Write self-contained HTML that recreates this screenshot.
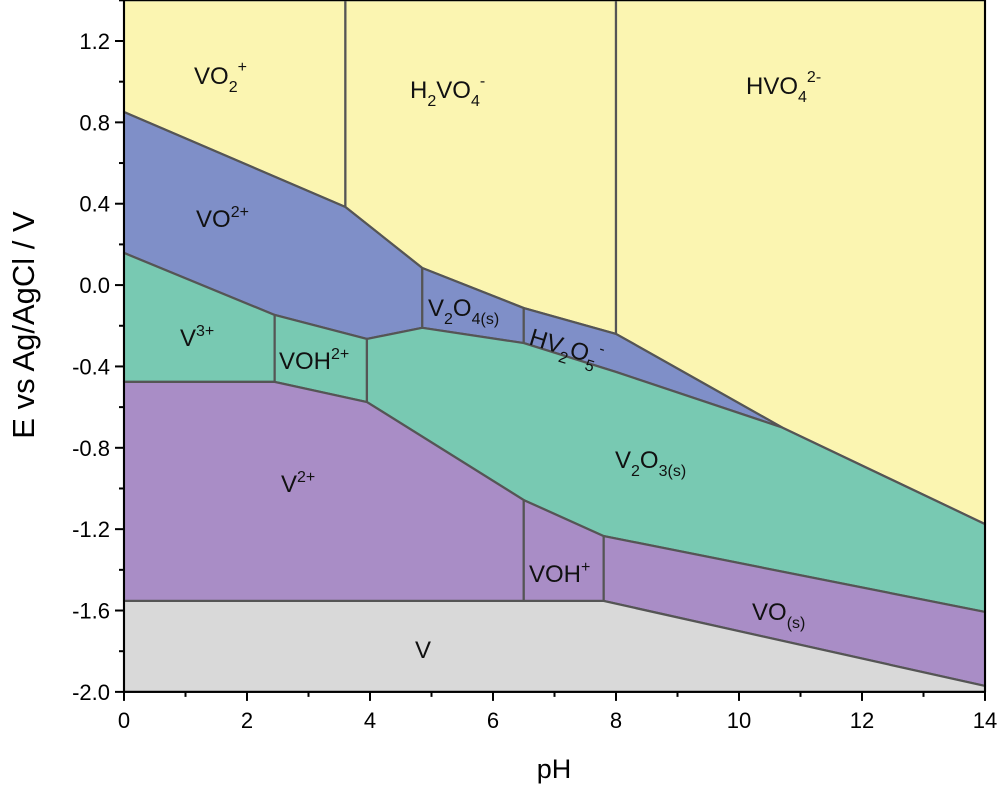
<!DOCTYPE html>
<html><head><meta charset="utf-8"><style>
body{margin:0;background:#fff}
svg{display:block;font-family:"Liberation Sans",Arial,sans-serif}
</style></head><body>
<svg id="chart" width="1000" height="801" viewBox="0 0 1000 801" xmlns="http://www.w3.org/2000/svg">
<g id="regions"></g>
<g id="axes"></g>
<g id="labels" font-size="24" fill="#111"></g>
<text x="34" y="325" font-size="31" text-anchor="middle" transform="rotate(-90 34 325)">E vs Ag/AgCl / V</text>
<text x="554" y="778" font-size="27" text-anchor="middle">pH</text>
</svg>
<script>
const xTicks=[0,2,4,6,8,10,12,14];
const yTicks=[-2.0,-1.6,-1.2,-0.8,-0.4,0.0,0.4,0.8,1.2];
const regVO2p=[[0,1.4],[3.6,1.4],[3.6,0.384],[0,0.851]];
const regH2VO4=[[3.6,1.4],[8,1.4],[8,-0.24],[6.5,-0.113],[4.85,0.084],[3.6,0.384]];
const regHVO4=[[8,1.4],[14,1.4],[14,-1.175],[10.7,-0.70],[8,-0.24]];
const regVO2=[[0,0.851],[3.6,0.384],[4.85,0.084],[4.85,-0.21],[3.95,-0.265],[2.45,-0.147],[0,0.158]];
const regV2O4=[[4.85,0.084],[6.5,-0.113],[6.5,-0.285],[4.85,-0.21]];
const regHV2O5=[[6.5,-0.113],[8,-0.24],[10.7,-0.70],[8,-0.427],[6.5,-0.285]];
const regV3=[[0,0.158],[2.45,-0.147],[2.45,-0.476],[0,-0.476]];
const regVOH2=[[2.45,-0.147],[3.95,-0.265],[3.95,-0.575],[2.45,-0.476]];
const regV2O3=[[3.95,-0.265],[4.85,-0.21],[6.5,-0.285],[8,-0.427],[10.7,-0.70],[14,-1.175],[14,-1.607],[7.8,-1.234],[6.5,-1.057],[3.95,-0.575]];
const regV2=[[0,-0.476],[2.45,-0.476],[3.95,-0.575],[6.5,-1.057],[6.5,-1.553],[0,-1.553]];
const regVOH=[[6.5,-1.057],[7.8,-1.234],[7.8,-1.553],[6.5,-1.553]];
const regVO=[[7.8,-1.234],[14,-1.607],[14,-1.971],[7.8,-1.553]];
const regV=[[0,-1.553],[7.8,-1.553],[14,-1.971],[14,-2.0],[0,-2.0]];
const X=v=>124+v*61.5;
const Y=v=>41+(1.2-v)*203.4;
const NS="http://www.w3.org/2000/svg";
function mk(t,a,p){const e=document.createElementNS(NS,t);for(const k in a)e.setAttribute(k,a[k]);p.appendChild(e);return e;}
const R=document.getElementById('regions');
const regs=[[regVO2p,'#fbf5b1','region-vo2-plus'],[regH2VO4,'#fbf5b1','region-h2vo4'],[regHVO4,'#fbf5b1','region-hvo4'],
[regVO2,'#7f8fc8','region-vo2-2plus'],[regV2O4,'#7f8fc8','region-v2o4'],[regHV2O5,'#7f8fc8','region-hv2o5'],
[regV3,'#78c9b2','region-v3-plus'],[regVOH2,'#78c9b2','region-voh2-plus'],[regV2O3,'#78c9b2','region-v2o3'],
[regV2,'#a98dc6','region-v2-plus'],[regVOH,'#a98dc6','region-voh-plus'],[regVO,'#a98dc6','region-vo'],[regV,'#d9d9d9','region-v']];
for(const [pts,c,n] of regs){
 const p=mk('polygon',{points:pts.map(q=>X(q[0])+','+Y(q[1])).join(' '),fill:c,stroke:'#555','stroke-width':2.2,'stroke-linejoin':'round'},R);
 
 
}
const A=document.getElementById('axes');
mk('rect',{x:X(0),y:0,width:X(14)-X(0),height:Y(-2)-0,fill:'none',stroke:'#000','stroke-width':2},A);
for(let i=0;i<=14;i++){const x=X(i);mk('line',{x1:x,x2:x,y1:Y(-2),y2:Y(-2)+(i%2?5:9),stroke:'#000','stroke-width':2},A);}
for(const t of xTicks){const e=mk('text',{x:X(t),y:Y(-2)+36,'font-size':22,'text-anchor':'middle'},A);e.textContent=t;
 
 }
for(let v=-2.0;v<=1.41;v+=0.2){const y=Y(v);const maj=Math.round(v*10)%4===0;mk('line',{x1:X(0),x2:X(0)-(maj?9:5),y1:y,y2:y,stroke:'#000','stroke-width':2},A);}
for(const t of yTicks){const e=mk('text',{x:X(0)-14,y:Y(t)+8,'font-size':22,'text-anchor':'end'},A);e.textContent=t.toFixed(1);
 
 }
const L=document.getElementById('labels');
const labs=[[194,84,'VO<tspan font-size="16" dy="8">2</tspan><tspan font-size="16" dy="-20">+</tspan>','label-vo2-plus',0],
[410,98,'H<tspan font-size="16" dy="8">2</tspan><tspan dy="-8">VO</tspan><tspan font-size="16" dy="8">4</tspan><tspan font-size="16" dy="-20">-</tspan>','label-h2vo4',0],
[746,94,'HVO<tspan font-size="16" dy="8">4</tspan><tspan font-size="16" dy="-20">2-</tspan>','label-hvo4',0],
[196,227,'VO<tspan font-size="16" dy="-10">2+</tspan>','label-vo2-2plus',0],
[428,316,'V<tspan font-size="16" dy="8">2</tspan><tspan dy="-8">O</tspan><tspan font-size="16" dy="8">4(s)</tspan>','label-v2o4',0],
[528,344,'HV<tspan font-size="16" dy="8">2</tspan><tspan dy="-8">O</tspan><tspan font-size="16" dy="8">5</tspan><tspan font-size="16" dy="-20">-</tspan>','label-hv2o5',17],
[180,346,'V<tspan font-size="16" dy="-10">3+</tspan>','label-v3-plus',0],
[279,369,'VOH<tspan font-size="16" dy="-10">2+</tspan>','label-voh2-plus',0],
[615,468,'V<tspan font-size="16" dy="8">2</tspan><tspan dy="-8">O</tspan><tspan font-size="16" dy="8">3(s)</tspan>','label-v2o3',0],
[281,492,'V<tspan font-size="16" dy="-10">2+</tspan>','label-v2-plus',0],
[529,582,'VOH<tspan font-size="16" dy="-10">+</tspan>','label-voh-plus',0],
[752,620,'VO<tspan font-size="16" dy="8">(s)</tspan>','label-vo',0],
[415,658,'V','label-v',0]];
for(const [x,y,h,n,r] of labs){const e=mk('text',{x:x,y:y},L);e.innerHTML=h;
 if(r) e.setAttribute('transform','rotate('+r+' '+x+' '+y+')');
 
 }
</script>
</body></html>
